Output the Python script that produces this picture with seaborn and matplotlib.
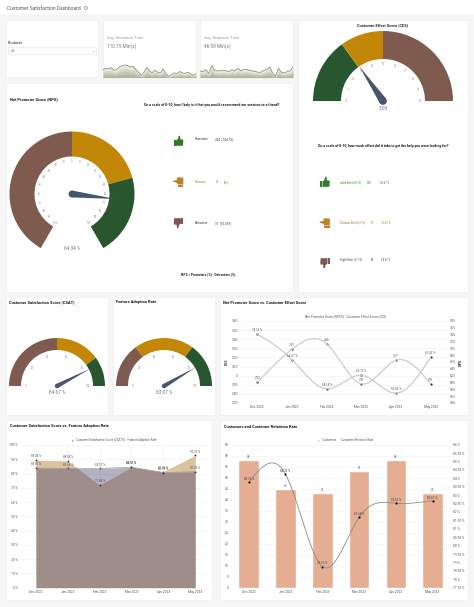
import numpy as np
import pandas as pd
import matplotlib
matplotlib.use("Agg")
import matplotlib.pyplot as plt
import seaborn as sns
from matplotlib.patches import Wedge, Rectangle, Polygon
from matplotlib.transforms import Affine2D

W, H = 474, 607
sns.set_theme(style="white")
plt.rcParams["font.family"] = ["Roboto", "DejaVu Sans"]

GREEN, ORANGE, BROWN = "#27562f", "#c38708", "#7f5a4f"
TXT = "#555555"
months = ["Dec 2022", "Jan 2023", "Feb 2023", "Mar 2023", "Apr 2023", "May 2023"]

nps = [74.14, 66.67, 58.14, 62.15, 56.86, 67.43]
ces = [2.93, 3.29, 3.35, 2.91, 3.17, 2.91]
csat = [89.44, 88.85, 71.84, 84.51, 81.36, 92.72]
far = [83.82, 83.66, 83.57, 84.51, 80.70, 81.33]
customers = [58, 45, 43, 53, 58, 43]
retention = [83.76, 84.25, 78.76, 81.68, 82.52, 82.67]
res_spark = [6, 7, 6.5, 7.5, 5.5, 6, 8, 9, 9.5, 9, 8, 8.5, 6, 4, 1.5, 4, 7.5, 5, 3.5, 5.5, 4, 3.5, 6.5, 3, 1, 2, 3.5, 3, 4.5, 3.5, 3, 4, 3, 1.5, 3]
resp_spark = [5, 4.5, 6, 3, 9, 5.5, 5, 5, 5.5, 5, 4.5, 6, 5, 7, 5, 6, 6, 5.5, 5, 4.5, 4, 4, 5.5, 6, 8, 3.5, 1, 7, 4, 3.5, 4.5, 5, 8]
ces_gauge = [3, 5, 10, 3.09]
nps_gauge = [0, 50, 100, 64.34]
csat_gauge = [50, 80, 100, 84.67]
far_gauge = [30, 70, 100, 83.07]

fig = plt.figure(figsize=(W / 100, H / 100), dpi=100, facecolor="#f6f6f6")

def axpx(x0, y0, x1, y1, **kw):
    return fig.add_axes([x0 / W, 1 - y1 / H, (x1 - x0) / W, (y1 - y0) / H], **kw)

bg = axpx(0, 0, W, H)
bg.set_xlim(0, W); bg.set_ylim(H, 0); bg.axis("off")
bg.add_patch(Rectangle((0, 0), W, 14, fc="white", ec="none"))
for (x0, y0, x1, y1) in [(6, 20, 98, 77), (103, 20, 196, 78), (200, 20, 293, 78), (6, 83, 293, 292),
                         (298, 20, 468, 292), (6, 297, 108, 415), (113, 297, 215, 415),
                         (220, 297, 468, 415), (6, 420, 212, 600), (220, 420, 468, 600)]:
    bg.add_patch(Rectangle((x0, y0), x1 - x0, y1 - y0, fc="white", ec="#efefef", lw=0.5))

def t(x, y, s, size=3.2, color=TXT, weight="normal", ha="left", va="center", ax=bg, **kw):
    return ax.text(x, y, s, fontsize=size, color=color, fontweight=weight, ha=ha, va=va, **kw)

t(7, 8, "Customer Satisfaction Dashboard", 3.55, "#555555")
bg.add_patch(plt.Circle((86, 8), 1.5, fc="none", ec="#666666", lw=0.4))
t(8, 43, "Products", 2.7, "#222222")
bg.add_patch(Rectangle((8, 47), 88, 7, fc="white", ec="#e4e4e4", lw=0.4))
t(11, 51, "All", 2.2, "#666666")
t(93, 50.5, "⌄", 2.6, "#777777", ha="center")
t(107, 38.5, "Avg. Resolution Time", 2.8, "#999999")
t(107, 46, "110.15 Min(s)", 3.45, "#777777")
t(204, 38.5, "Avg. Response Time", 2.8, "#999999")
t(204, 46, "46.09 Min(s)", 3.45, "#777777")

def spark(vals, x0, x1):
    a = axpx(x0, 63, x1, 77.5)
    a.patch.set_alpha(0)
    d = pd.DataFrame({"i": range(len(vals)), "v": vals})
    for top, al in [(1.0, .16), (.75, .16), (.5, .18), (.25, .2)]:
        a.fill_between(d.i, 0, d.v * top, color="#6d7a48", alpha=al, lw=0)
    sns.lineplot(data=d, x="i", y="v", ax=a, color="#8f8f78", lw=0.6, legend=False)
    a.set_xlim(0, len(vals) - 1); a.set_ylim(0, 11); a.axis("off")

spark(res_spark, 103, 196)
spark(resp_spark, 200, 293)

def gauge(cx, cy, ro, ri, vmin, vmax, a0, a1, vals, ticks, cols, label, ly, needle_len, tick_r, tsize, lsize):
    s1, s2, s3, v = vals
    ang = lambda x: a0 + (x - vmin) / (vmax - vmin) * (a1 - a0)
    edges = [vmin, s1, s2, s3]
    for i in range(3):
        hi, lo = ang(edges[i]), ang(edges[i + 1])
        bg.add_patch(Wedge((cx, -cy), ro, min(lo, hi), max(lo, hi), width=ro - ri, fc=cols[i], ec="none",
                           transform=Affine2D().scale(1, -1) + bg.transData))
    for tk in ticks:
        th = np.deg2rad(ang(tk))
        t(cx + tick_r * np.cos(th), cy - tick_r * np.sin(th), f"{tk}", tsize, "#8a8a8a", ha="center")
    th = np.deg2rad(ang(v))
    ux, uy = np.cos(th), -np.sin(th)
    nx, ny = -uy, ux
    w = ro * 0.055 if ro > 55 else 2.2
    bg.add_patch(Polygon([(cx + ux * needle_len, cy + uy * needle_len), (cx + nx * w, cy + ny * w), (cx - nx * w, cy - ny * w)],
                         fc="#46566c", ec="none", zorder=4))
    bg.add_patch(plt.Circle((cx, cy), w, fc="#46566c", ec="none", zorder=4))
    t(cx, ly, label, lsize, "#777777", ha="center")

gauge(383, 101, 70, 42, 0, 10, 180, 0, ces_gauge, list(range(11)), [GREEN, ORANGE, BROWN], "3.09", 109, 42, 37, 2.6, 3.4)
gauge(72, 194, 62.5, 37.5, -100, 100, 240, -60, nps_gauge, list(range(-100, 101, 10)), [BROWN, ORANGE, GREEN], "64.34 %", 248.5, 44, 33, 1.9, 3.4)
gauge(57, 386, 48, 36, 0, 100, 180, 0, csat_gauge, [0, 20, 40, 60, 80, 100], [BROWN, ORANGE, GREEN], "84.67 %", 393, 37, 31, 1.9, 3.4)
gauge(164, 386, 48, 36, 0, 100, 180, 0, far_gauge, [0, 20, 40, 60, 80, 100], [BROWN, ORANGE, GREEN], "83.07 %", 393, 37, 31, 1.9, 3.4)

def thumb(cx, cy, col, rot):
    tr = Affine2D().rotate_deg(rot).translate(cx, cy) + bg.transData
    bg.add_patch(Rectangle((-4.6, -0.8), 1.7, 5.6, fc=col, ec="none", transform=tr))
    bg.add_patch(Polygon([(-2.5, -0.5), (-0.6, -2), (0.2, -5.2), (1.5, -5.2), (1.9, -1.6), (4.2, -1.6), (4.8, 0),
                          (4.3, 4.8), (-2.5, 4.8)], fc=col, ec="none", transform=tr))

t(10, 99.5, "Net Promoter Score (NPS)", 2.9, "#111111", "bold")
t(212, 104.5, "On a scale of 0-10, how likely is it that you would recommend our services to a friend?", 2.5, "#111111", "bold", ha="center")
thumb(178.5, 141, "#2f7d26", 0)
t(195, 139.5, "Promoters", 2.1, "#333333"); t(215, 139.5, "224  (74.67%)", 2.2, "#333333")
thumb(178.5, 182, "#bd8128", -90)
t(195, 182, "Passives", 2.1, "#8f7a2a"); t(216, 182, "45", 2.1, "#8f7a2a"); t(224, 182, "(6%)", 2.1, "#8f7a2a")
thumb(178.5, 223, "#7b5a50", 180)
t(195, 223, "Detractors", 2.1, "#333333"); t(215, 223, "31  (10.33%)", 2.2, "#333333")
t(208, 274, "NPS = Promoters (%) - Detractors (%)", 2.3, "#111111", "bold", ha="center")

t(383, 25.5, "Customer Effort Score (CES)", 2.85, "#222222", "bold", ha="center")
t(383, 146, "On a scale of 0-10, how much effort did it take to get the help you were looking for?", 2.5, "#111111", "bold", ha="center")
thumb(325, 182, "#2f7d26", 0)
t(340, 182.5, "Little Effort (0–3)", 2.0, "#2f7d26"); t(367, 182.5, "150", 2.0, "#2f7d26"); t(380, 182.5, "50.67 %", 2.0, "#2f7d26")
thumb(325, 223, "#bd8128", -90)
t(340, 222.5, "Medium Effort (3–5)", 2.0, "#a37a25"); t(371, 222.5, "95", 2.0, "#a37a25"); t(381, 222.5, "30.67 %", 2.0, "#a37a25")
thumb(325, 263, "#7b5a50", 180)
t(340, 260, "High Effort (5–10)", 2.0, "#444444"); t(371, 260, "55", 2.0, "#444444"); t(381, 260, "18.67 %", 2.0, "#444444")

t(9, 302.5, "Customer Satisfaction Score (CSAT)", 2.85, "#111111", "bold")
t(116, 302.5, "Feature Adoption Rate", 2.85, "#111111", "bold")
t(223, 302.5, "Net Promoter Score vs. Customer Effort Score", 2.85, "#111111", "bold")
t(10, 426.5, "Customer Satisfaction Score vs. Feature Adoption Rate", 2.85, "#111111", "bold")
t(224, 426.5, "Customers and Customer Retention Rate", 2.85, "#111111", "bold")
t(346, 316, "Net Promoter Score (NPS%)   Customer Effort Score (CES)", 2.25, "#555555", ha="center")
t(116, 440, "Customer Satisfaction Score (CSAT%)   Feature Adoption Rate", 2.05, "#555555", ha="center")
t(348, 440, "Customers      Customer Retention Rate", 2.1, "#555555", ha="center")
bg.plot([306.5], [316], marker="^", ms=1.5, color="#999999", mew=0)
bg.plot([72], [440], marker="^", ms=1.5, color="#999999", mew=0)
bg.plot([318], [440], marker="^", ms=1.5, color="#bbbbbb", mew=0)

def smooth(y):
    """Natural cubic spline through the data, used only to draw the curved line."""
    y = np.asarray(y, float); n = len(y)
    A = np.zeros((n, n)); b = np.zeros(n)
    A[0, 0] = A[-1, -1] = 1
    for i in range(1, n - 1):
        A[i, i - 1:i + 2] = [1, 4, 1]
        b[i] = 6 * (y[i + 1] - 2 * y[i] + y[i - 1])
    m = np.linalg.solve(A, b)
    xs, ys = [], []
    for i in range(n - 1):
        s = np.linspace(0, 1, 30)
        ys.extend((1 - s) * y[i] + s * y[i + 1] + (((1 - s) ** 3 - (1 - s)) * m[i] + (s ** 3 - s) * m[i + 1]) / 6)
        xs.extend(i + s)
    return pd.DataFrame({"x": xs, "y": ys})

def style(a, ygrid="#f0f0f0"):
    a.patch.set_alpha(0)
    for s in a.spines.values():
        s.set_visible(False)
    a.tick_params(length=0, labelsize=2.3, labelcolor="#555555", pad=1.5)
    a.set_xlabel(""); a.set_ylabel("")
    a.grid(axis="y", color=ygrid, lw=0.4)
    a.set_axisbelow(True)

LBL = 2.2
# NPS vs CES
a1 = axpx(240, 321, 448, 403)
a2 = a1.twinx()
x6 = np.arange(6)
sns.lineplot(data=smooth(ces), x="x", y="y", ax=a1, color="#cccccc", lw=0.9, legend=False)
sns.lineplot(data=smooth(nps), x="x", y="y", ax=a2, color="#cccccc", lw=0.9, legend=False)
sns.scatterplot(x=x6, y=ces, ax=a1, color="#222222", s=2.5, lw=0, legend=False)
sns.scatterplot(x=x6, y=nps, ax=a2, color="#222222", s=2.5, lw=0, legend=False)
a1.set_xlim(-.5, 5.5); a2.set_xlim(-.5, 5.5)
a1.set_ylim(2.7, 3.6); a2.set_ylim(54, 78)
a1.set_yticks(np.arange(2.7, 3.61, .1), ["2.70", "2.80", "2.90", "3", "3.10", "3.20", "3.30", "3.40", "3.50", "3.60"])
a2.set_yticks(range(54, 79, 2), [f"{v}%" for v in range(54, 79, 2)])
a1.set_xticks(x6, months)
style(a1); style(a2); a2.grid(False)
a1.set_ylabel("CES", fontsize=2.6, fontweight="bold", color="#333333", labelpad=2)
a2.set_ylabel("NPS", fontsize=2.6, fontweight="bold", color="#333333", labelpad=2)
for i in x6:
    a1.annotate(f"{ces[i]:g}", (i, ces[i]), xytext=(0, 2), textcoords="offset points", ha="center", fontsize=LBL, color="#555555")
    a2.annotate(f"{nps[i]:.2f} %", (i, nps[i]), xytext=(0, 2), textcoords="offset points", ha="center", fontsize=LBL, color="#555555")

# CSAT vs adoption
b = axpx(20, 445, 207, 587.7)
b.fill_between(x6, 0, csat, color="#c7a36b", alpha=.65, lw=0)
b.fill_between(x6, 0, far, color="#443c6b", alpha=.4, lw=0)
sns.lineplot(x=x6, y=far, ax=b, color="#8f8a99", lw=0.4, legend=False)
sns.scatterplot(x=x6, y=csat, ax=b, color="#333333", s=1.8, lw=0, legend=False)
sns.scatterplot(x=x6, y=far, ax=b, color="#333333", s=1.8, lw=0, legend=False)
b.set_xlim(-.5, 5.37); b.set_ylim(0, 100)
b.set_yticks(range(0, 101, 10), [f"{v} %" for v in range(0, 101, 10)])
b.set_xticks(x6, months)
style(b); b.grid(axis="x", color="#f0f0f0", lw=0.4)
for i in x6:
    b.annotate(f"{csat[i]:.2f} %", (i, csat[i]), xytext=(0, 2), textcoords="offset points", ha="center", fontsize=LBL, color="#555555")
    b.annotate(f"{far[i]:.2f} %", (i, far[i]), xytext=(0, 2), textcoords="offset points", ha="center", fontsize=LBL, color="#555555")

# Customers and retention
c1 = axpx(230.3, 444.7, 451, 587.7)
c2 = c1.twinx()
df = pd.DataFrame({"m": months, "c": customers})
sns.barplot(data=df, x="m", y="c", ax=c1, color="#e5ae93", saturation=1, width=.56)
sns.lineplot(data=smooth(retention), x="x", y="y", ax=c2, color="#8b8b8b", lw=0.6, legend=False)
sns.scatterplot(x=x6, y=retention, ax=c2, color="#111111", s=2.5, lw=0, legend=False, zorder=5)
c1.set_xlim(-.5, 5.5); c2.set_xlim(-.5, 5.5)
c1.set_ylim(0, 65); c2.set_ylim(77.5, 86)
c1.set_yticks(range(0, 66, 5), [str(v) for v in range(0, 66, 5)])
rt = np.arange(77.5, 86.01, .5)
c2.set_yticks(rt, [f"{v:.2f} %" if v % 1 else f"{v:.0f} %" for v in rt])
style(c1); style(c2); c2.grid(False)
c1.set_xlabel(""); c1.set_ylabel(""); c2.set_ylabel("")
for i in x6:
    c1.annotate(str(customers[i]), (i, customers[i]), xytext=(0, 1.5), textcoords="offset points", ha="center", fontsize=LBL, color="#555555")
    c2.annotate(f"{retention[i]:.2f} %", (i, retention[i]), xytext=(0, 1.5), textcoords="offset points", ha="center", fontsize=LBL, color="#444444", zorder=6)

fig.savefig("out.png", dpi=100, facecolor=fig.get_facecolor())
